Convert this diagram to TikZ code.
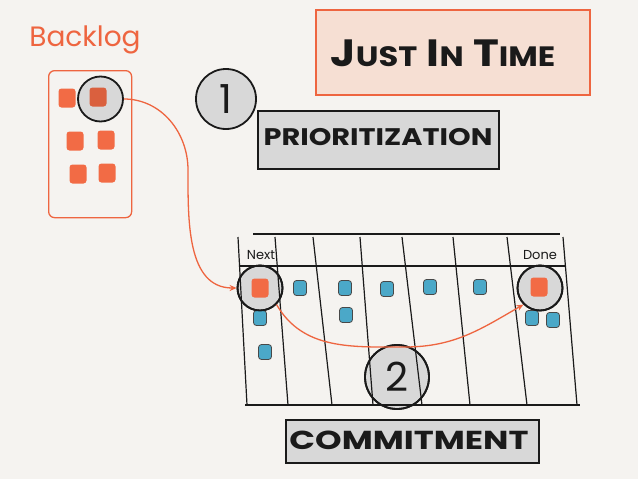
\documentclass[tikz,border=0pt]{standalone}
\usepackage{fontspec}
\usepackage{graphicx}
\setmainfont{Poppins}
\usetikzlibrary{arrows.meta}
\definecolor{paper}{HTML}{F5F3F0}
\definecolor{orng}{HTML}{EE6540}
\definecolor{cardor}{HTML}{F26B45}
\definecolor{peach}{HTML}{F6DFD3}
\definecolor{gbox}{HTML}{D8D8D8}
\definecolor{blu}{HTML}{4BA8C8}
\definecolor{ink}{HTML}{1A1A1A}
\tikzset{
  hl/.style={circle, draw=ink, line width=1.8pt, fill=gbox, minimum size=#1, inner sep=0pt},
  ocard/.style={rounded corners=3pt, fill=cardor, minimum width=17pt, minimum height=19pt, inner sep=0pt},
  bcard/.style={rounded corners=3pt, fill=blu, draw=ink!80, line width=0.8pt, minimum width=13pt, minimum height=15pt, inner sep=0pt},
  lblbox/.style={draw=ink, line width=1.5pt, fill=gbox, inner sep=0pt, anchor=north west},
  board/.style={ink, line width=1.2pt},
  flow/.style={orng, line width=1.3pt, -{Stealth[length=7pt,width=6pt]}},
  hand/.style={text=ink}
}
\begin{document}
\begin{tikzpicture}[x=1pt,y=-1pt]
\fill[paper] (0,0) rectangle (638,479);
\useasboundingbox (0,0) rectangle (638,479);

% title box
\node[draw=orng, line width=1.5pt, fill=peach, minimum width=274pt, minimum height=85pt, anchor=north west, inner sep=0pt] (jit) at (315,9) {};
\node[hand, font=\bfseries\fontsize{38}{38}\selectfont] (jitt) at (443,53) {\scalebox{1.15}[1]{J{\fontsize{28}{28}\selectfont UST} I{\fontsize{28}{28}\selectfont N} T{\fontsize{28}{28}\selectfont IME}}};

% backlog
\node[text=orng, font=\fontsize{28}{28}\selectfont] (bltitle) at (85,40) {Backlog};
\node[draw=orng, line width=1.3pt, rounded corners=6pt, minimum width=83pt, minimum height=147pt, anchor=north west, inner sep=0pt] (bl) at (48,70) {};
\node[hl=45pt] (bc) at (100.5,99) {};
\node[ocard] (b1) at (67,98) {};
\node[ocard, fill=cardor!90!black] (b2) at (98,97) {};
\node[ocard] (b3) at (75,141) {};
\node[ocard] (b4) at (106,140) {};
\node[ocard] (b5) at (78,174) {};
\node[ocard] (b6) at (107,173) {};

% step 1
\node[hl=60pt, font=\fontsize{40}{40}\selectfont, text=ink] (one) at (226,99) {1};
\node[lblbox, minimum width=241pt, minimum height=58pt] (prio) at (257,110) {};
\node[hand, font=\bfseries\fontsize{24}{24}\selectfont] (priot) at (378,137) {\scalebox{1.2}[1]{PRIORITIZATION}};

% board circles (fill below lines)
\node[hl=45pt] (nc) at (260,288) {};
\node[hl=45pt] (dc) at (540,288) {};
\node[hl=64pt, font=\fontsize{40}{40}\selectfont, text=ink] (two) at (397,377) {2};

% board lines
\draw[board] (253,234) -- (560,234);
\draw[board] (240,266) -- (566,266);
\draw[board] (245,405) -- (580,405);
\foreach \a/\b in {238/247,275/288,313/332,360/373,402/422,453/470,507/527,563/577}
  \draw[board] (\a,237) -- (\b,405);
\node[font=\fontsize{13}{13}\selectfont, text=ink] (nextt) at (261,255) {Next};
\node[font=\fontsize{13}{13}\selectfont, text=ink] (donet) at (540,255) {Done};

% cards
\node[ocard] (nc1) at (260,288) {};
\node[ocard] (dc1) at (539,287) {};
\node[bcard] (k1) at (300,288) {};
\node[bcard] (k2) at (345,288) {};
\node[bcard] (k3) at (387,289) {};
\node[bcard] (k4) at (430,287) {};
\node[bcard] (k5) at (480,287) {};
\node[bcard] (k6) at (346,315) {};
\node[bcard] (k7) at (260,318) {};
\node[bcard] (k8) at (265,352) {};
\node[bcard] (k9) at (532,318) {};
\node[bcard] (k10) at (553,320) {};

% circle outlines redrawn on top
\node[circle, draw=ink, line width=1.8pt, minimum size=45pt] at (nc) {};
\node[circle, draw=ink, line width=1.8pt, minimum size=45pt] at (dc) {};
\node[circle, draw=ink, line width=1.8pt, minimum size=64pt] at (two) {};

% commitment
\node[lblbox, minimum width=253pt, minimum height=43pt] (comm) at (285,419) {};
\node[hand, font=\bfseries\fontsize{26}{26}\selectfont] (commt) at (409,440) {\scalebox{1.3}[1]{COMMITMENT}};

% connectors
\coordinate (via) at (188,170);
\coordinate (low) at (405,347);
\draw[flow] (bc.east) to[out=0,in=90] (via) to[out=-90,in=180] (nc.west);
\draw[flow] (nc.south east) to[out=-60,in=180] (low) to[out=0,in=-150] (dc.south west);
\end{tikzpicture}
\end{document}
